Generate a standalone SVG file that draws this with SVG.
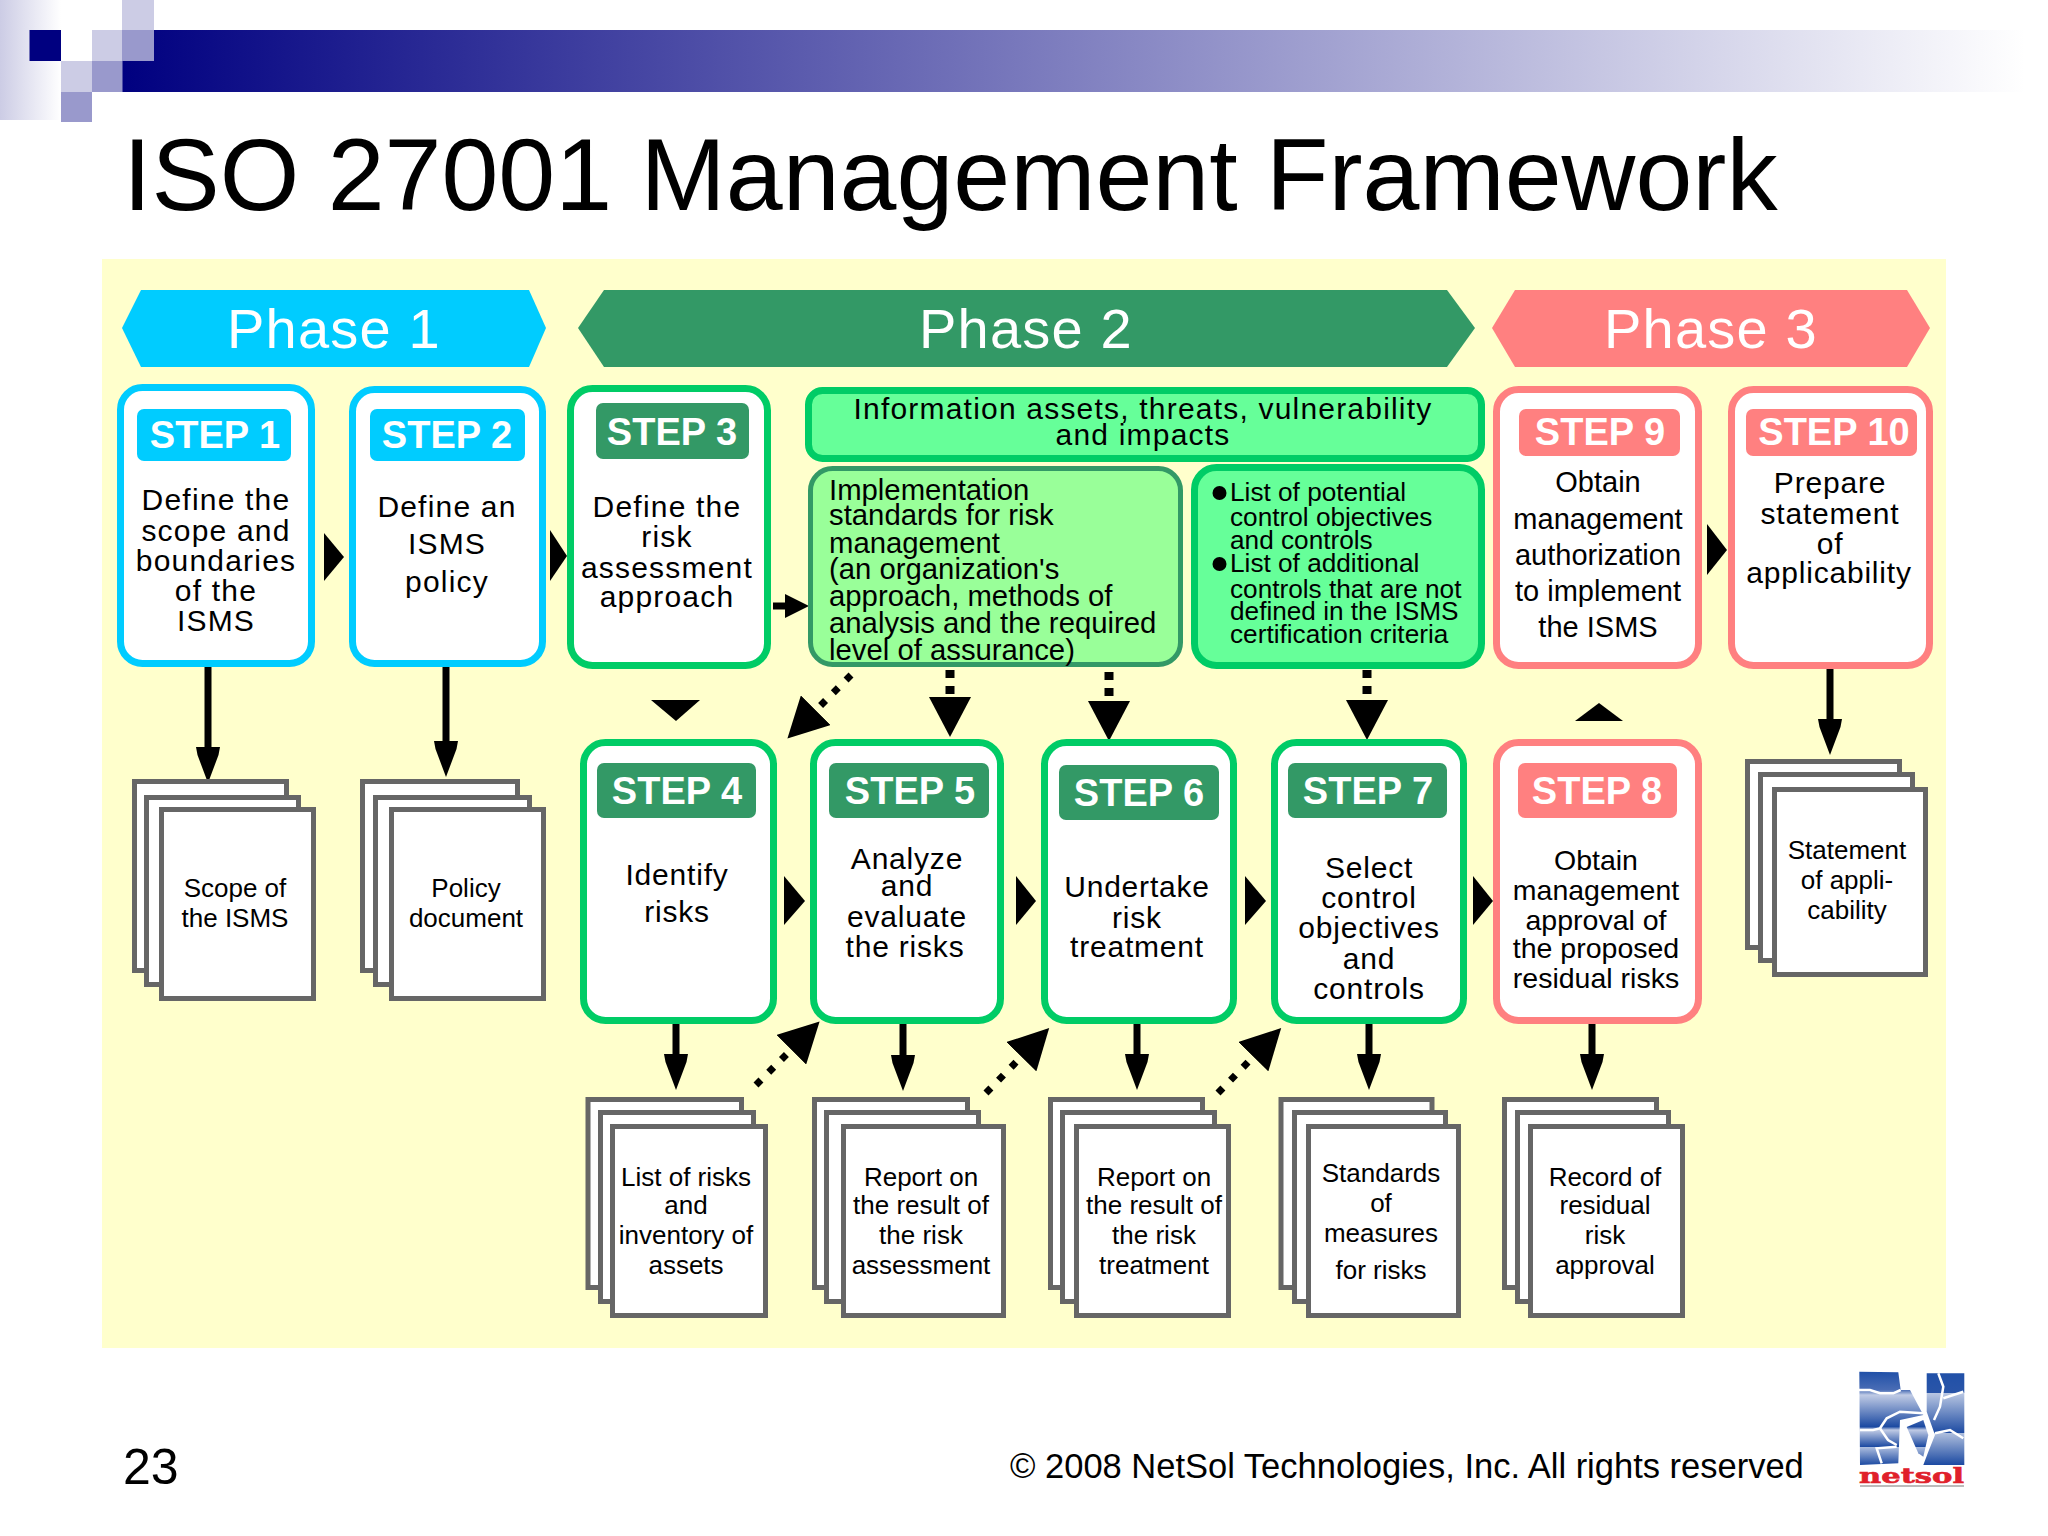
<svg xmlns="http://www.w3.org/2000/svg" width="2048" height="1536" viewBox="0 0 2048 1536">
<style>
text{font-family:"Liberation Sans",Arial,sans-serif;fill:#000}
.m{text-anchor:middle}
.ph{font-size:56px;fill:#fff;text-anchor:middle;letter-spacing:1.200px}
.lab{font-size:38px;font-weight:bold;fill:#fff;text-anchor:middle}
.d{font-size:30px;text-anchor:middle;letter-spacing:.8px}
.n{font-size:29px;letter-spacing:0}
.w{letter-spacing:1.200px}
.doc{font-size:26px;text-anchor:middle}
.imp{font-size:29.300px}
.lst{font-size:26.200px}
.box{fill:#fff;stroke-width:7}
.cy{stroke:#00CCFF}.gr{stroke:#00CC66}.rd{stroke:#FF8080}
.f-cy{fill:#00CCFF}.f-gr{fill:#339966}.f-rd{fill:#FF8080}
.page{fill:#fff;stroke:#666;stroke-width:5}
.line{stroke:#000;stroke-width:7;fill:none;marker-end:url(#solid)}
.dash{stroke:#000;stroke-width:9;stroke-dasharray:8 8;fill:none;marker-end:url(#big)}
.dot{stroke:#000;stroke-width:7;stroke-dasharray:7 11;fill:none;marker-end:url(#big)}
.tri{fill:#000}
.wv{fill:none;stroke:#fff;stroke-width:2.500}
</style>
<defs>
<linearGradient id="bar" gradientUnits="userSpaceOnUse" x1="122" y1="0" x2="2025" y2="0"><stop offset="0" stop-color="#000080"/><stop offset="1" stop-color="#fff"/></linearGradient>
<linearGradient id="fade" x1="0" y1="0" x2="1" y2="0"><stop offset="0" stop-color="#CCCCE5"/><stop offset="1" stop-color="#fff"/></linearGradient>
<linearGradient id="lgL" gradientUnits="userSpaceOnUse" x1="0" y1="1371.700" x2="0" y2="1465">
<stop offset="0" stop-color="#2050A8"/><stop offset=".196" stop-color="#4A6DB5"/><stop offset=".25" stop-color="#C0CBE5"/><stop offset=".589" stop-color="#1C4AA2"/><stop offset=".625" stop-color="#C0CBE5"/><stop offset=".804" stop-color="#1C4AA2"/><stop offset=".804" stop-color="#B0C0E0"/><stop offset="1" stop-color="#1C4AA2"/></linearGradient>
<linearGradient id="lgR" gradientUnits="userSpaceOnUse" x1="0" y1="1371.700" x2="0" y2="1465">
<stop offset="0" stop-color="#2050A8"/><stop offset=".232" stop-color="#2A55A8"/><stop offset=".232" stop-color="#B8C6E2"/><stop offset=".66" stop-color="#1C4AA2"/><stop offset=".66" stop-color="#AEBEDD"/><stop offset="1" stop-color="#1C4AA2"/></linearGradient>
<marker id="solid" markerUnits="userSpaceOnUse" markerWidth="36" markerHeight="24" refX="1" refY="12" orient="auto"><path d="M0,0 L8,1.500 L36,12 L8,22.500 L0,24Z"/></marker>
<marker id="big" markerUnits="userSpaceOnUse" markerWidth="40" markerHeight="42" refX="1" refY="21" orient="auto"><path d="M0,0 L40,21 L0,42Z"/></marker>
<marker id="small" markerUnits="userSpaceOnUse" markerWidth="24" markerHeight="24" refX="1" refY="12" orient="auto"><path d="M0,0 L24,12 L0,24Z"/></marker>
</defs>
<rect width="2048" height="1536" fill="#fff"/>
<g id="header">
<rect x="0" y="0" width="61" height="120" fill="url(#fade)"/>
<rect x="122" y="30" width="1926" height="62" fill="url(#bar)"/>
<rect x="29.500" y="30" width="31.500" height="31" fill="#000080"/>
<rect x="61" y="30" width="31" height="31" fill="#fff"/>
<rect x="122" y="0" width="32" height="30" fill="#CCCCE5"/>
<rect x="92" y="30" width="30.500" height="31" fill="#CCCCE5"/>
<rect x="122" y="30" width="32" height="31" fill="#9999CC"/>
<rect x="61" y="61" width="31" height="31" fill="#CCCCE5"/>
<rect x="92" y="61" width="30.500" height="31" fill="#9999CC"/>
<rect x="61" y="92" width="31" height="30" fill="#9999CC"/>
</g>
<text id="title" x="123" y="210" font-size="102.300">ISO 27001 Management Framework</text>
<rect id="panel" x="102" y="259" width="1844" height="1089" fill="#FFFFCC"/>
<g id="phase1"><polygon class="f-cy" points="122,328 141,290 529,290 546,328 529,367 141,367"/><text class="ph" x="334" y="348">Phase 1</text></g>
<g id="phase2"><polygon class="f-gr" points="578,328 604,290 1447,290 1475,328 1447,367 604,367"/><text class="ph" x="1026" y="348">Phase 2</text></g>
<g id="phase3"><polygon class="f-rd" points="1492,328 1515,290 1907,290 1930,328 1907,367 1515,367"/><text class="ph" x="1711" y="348">Phase 3</text></g>

<g id="connectors">
<line class="line" x1="208" y1="667" x2="208" y2="748"/>
<line class="line" x1="446" y1="667" x2="446" y2="742"/>
<line class="line" x1="676" y1="1024" x2="676" y2="1055"/>
<line class="line" x1="903" y1="1022" x2="903" y2="1056"/>
<line class="line" x1="1137" y1="1022" x2="1137" y2="1055"/>
<line class="line" x1="1369" y1="1022" x2="1369" y2="1055"/>
<line class="line" x1="1592" y1="1022" x2="1592" y2="1055"/>
<line class="line" x1="1830" y1="669" x2="1830" y2="720"/>
<line x1="773" y1="606" x2="786" y2="606" stroke="#000" stroke-width="7" marker-end="url(#small)"/>
<line class="dash" x1="950" y1="670" x2="950" y2="698"/>
<line class="dash" x1="1109" y1="672" x2="1109" y2="702"/>
<line class="dash" x1="1367" y1="670" x2="1367" y2="701"/>
<line class="dot" x1="851" y1="675" x2="815" y2="711"/>
<line class="dot" x1="756" y1="1085" x2="792" y2="1049"/>
<line class="dot" x1="986" y1="1093" x2="1022" y2="1056"/>
<line class="dot" x1="1218" y1="1093" x2="1254" y2="1056"/>
<polygon class="tri" points="324,533 344,557 324,581"/>
<polygon class="tri" points="550,530 567,556 550,581"/>
<polygon class="tri" points="784,876 805,901 784,925"/>
<polygon class="tri" points="1016,876 1036,901 1016,925"/>
<polygon class="tri" points="1245,876 1266,901 1245,925"/>
<polygon class="tri" points="1473,876 1493,901 1473,925"/>
<polygon class="tri" points="1707,524 1727,550 1707,575"/>
<polygon class="tri" points="651,700 700,700 676,721"/>
<polygon class="tri" points="1575,721 1623,721 1599,703"/>
</g>

<g id="step1"><rect class="box cy" x="120.500" y="387.500" width="191" height="276" rx="22"/><rect class="f-cy" x="137" y="409" width="154" height="52" rx="7"/><text class="lab" x="215" y="448">STEP 1</text>
<text class="d w"><tspan x="216" y="510">Define the</tspan><tspan x="216" y="541">scope and</tspan><tspan x="216" y="571">boundaries</tspan><tspan x="216" y="601">of the</tspan><tspan x="216" y="631">ISMS</tspan></text></g>
<g id="step2"><rect class="box cy" x="352.500" y="389.500" width="190" height="274" rx="22"/><rect class="f-cy" x="370" y="409" width="155" height="52" rx="7"/><text class="lab" x="447" y="448">STEP 2</text>
<text class="d w"><tspan x="447" y="517">Define an</tspan><tspan x="447" y="554">ISMS</tspan><tspan x="447" y="592">policy</tspan></text></g>
<g id="step3"><rect class="box gr" x="570.500" y="388.500" width="197" height="277" rx="22"/><rect class="f-gr" x="596" y="403" width="153" height="56" rx="7"/><text class="lab" x="672" y="445">STEP 3</text>
<text class="d w"><tspan x="667" y="517">Define the</tspan><tspan x="667" y="547">risk</tspan><tspan x="667" y="578">assessment</tspan><tspan x="667" y="607">approach</tspan></text></g>
<g id="info"><rect x="808.500" y="390.500" width="673" height="68" rx="14" fill="#66FF99" stroke="#00CC66" stroke-width="7"/>
<text class="d w"><tspan x="1143" y="419">Information assets, threats, vulnerability</tspan><tspan x="1143" y="445">and impacts</tspan></text></g>
<g id="standards"><rect x="810.500" y="468.500" width="370" height="196" rx="22" fill="#99FF99" stroke="#339966" stroke-width="5"/>
<text class="imp"><tspan x="829" y="500">Implementation</tspan><tspan x="829" y="525">standards for risk</tspan><tspan x="829" y="553">management</tspan><tspan x="829" y="579">(an organization's</tspan><tspan x="829" y="606">approach, methods of</tspan><tspan x="829" y="633">analysis and the required</tspan><tspan x="829" y="660">level of assurance)</tspan></text></g>
<g id="controls"><rect x="1194.500" y="467.500" width="287" height="198" rx="22" fill="#66FF99" stroke="#00CC66" stroke-width="7"/>
<circle cx="1219.500" cy="493" r="7"/><circle cx="1219.500" cy="564" r="7"/>
<text class="lst"><tspan x="1230" y="501">List of potential</tspan><tspan x="1230" y="526">control objectives</tspan><tspan x="1230" y="549">and controls</tspan><tspan x="1230" y="572">List of additional</tspan><tspan x="1230" y="598">controls that are not</tspan><tspan x="1230" y="620">defined in the ISMS</tspan><tspan x="1230" y="643">certification criteria</tspan></text></g>
<g id="step9"><rect class="box rd" x="1496.500" y="389.500" width="202" height="276" rx="22"/><rect class="f-rd" x="1519" y="409" width="161" height="47" rx="7"/><text class="lab" x="1600" y="445">STEP 9</text>
<text class="d n"><tspan x="1598" y="492">Obtain</tspan><tspan x="1598" y="529">management</tspan><tspan x="1598" y="565">authorization</tspan><tspan x="1598" y="601">to implement</tspan><tspan x="1598" y="637">the ISMS</tspan></text></g>
<g id="step10"><rect class="box rd" x="1731.500" y="389.500" width="198" height="276" rx="22"/><rect class="f-rd" x="1746" y="409" width="171" height="47" rx="7"/><text class="lab" x="1834" y="445">STEP 10</text>
<text class="d"><tspan x="1830" y="493">Prepare</tspan><tspan x="1830" y="524">statement</tspan><tspan x="1830" y="554">of</tspan><tspan x="1829" y="583">applicability</tspan></text></g>
<g id="step4"><rect class="box gr" x="583.500" y="742.500" width="190" height="278" rx="22"/><rect class="f-gr" x="597" y="763" width="159" height="55" rx="7"/><text class="lab" x="677" y="804">STEP 4</text>
<text class="d"><tspan x="677" y="885">Identify</tspan><tspan x="677" y="922">risks</tspan></text></g>
<g id="step5"><rect class="box gr" x="813.500" y="742.500" width="187" height="278" rx="22"/><rect class="f-gr" x="829" y="763" width="160" height="55" rx="7"/><text class="lab" x="910" y="804">STEP 5</text>
<text class="d"><tspan x="907" y="869">Analyze</tspan><tspan x="907" y="896">and</tspan><tspan x="907" y="927">evaluate</tspan><tspan x="905" y="957">the risks</tspan></text></g>
<g id="step6"><rect class="box gr" x="1044.500" y="742.500" width="189" height="278" rx="22"/><rect class="f-gr" x="1059" y="765" width="160" height="55" rx="7"/><text class="lab" x="1139" y="806">STEP 6</text>
<text class="d"><tspan x="1137" y="897">Undertake</tspan><tspan x="1137" y="928">risk</tspan><tspan x="1137" y="957">treatment</tspan></text></g>
<g id="step7"><rect class="box gr" x="1274.500" y="742.500" width="189" height="278" rx="22"/><rect class="f-gr" x="1288" y="763" width="159" height="55" rx="7"/><text class="lab" x="1368" y="804">STEP 7</text>
<text class="d"><tspan x="1369" y="878">Select</tspan><tspan x="1369" y="908">control</tspan><tspan x="1369" y="938">objectives</tspan><tspan x="1369" y="969">and</tspan><tspan x="1369" y="999">controls</tspan></text></g>
<g id="step8"><rect class="box rd" x="1496.500" y="742.500" width="202" height="278" rx="22"/><rect class="f-rd" x="1518" y="763" width="159" height="55" rx="7"/><text class="lab" x="1597" y="804">STEP 8</text>
<text class="d n" style="font-size:28.500px"><tspan x="1596" y="870">Obtain</tspan><tspan x="1596" y="900">management</tspan><tspan x="1596" y="930">approval of</tspan><tspan x="1596" y="958">the proposed</tspan><tspan x="1596" y="988">residual risks</tspan></text></g>

<g id="doc-scope"><rect class="page" x="134.500" y="781.500" width="152" height="189"/><rect class="page" x="146.500" y="797.500" width="152" height="187"/><rect class="page" x="161.500" y="809.500" width="152" height="189"/>
<text class="doc"><tspan x="235" y="897">Scope of</tspan><tspan x="235" y="927">the ISMS</tspan></text></g>
<g id="doc-policy"><rect class="page" x="362.500" y="781.500" width="155" height="189"/><rect class="page" x="375.500" y="797.500" width="154" height="187"/><rect class="page" x="391.500" y="809.500" width="152" height="189"/>
<text class="doc"><tspan x="466" y="897">Policy</tspan><tspan x="466" y="927">document</tspan></text></g>
<g id="doc-risks"><rect class="page" x="588" y="1099.500" width="153.500" height="188"/><rect class="page" x="600.500" y="1112.500" width="153" height="189"/><rect class="page" x="612.500" y="1126.500" width="153" height="189"/>
<text class="doc"><tspan x="686" y="1186">List of risks</tspan><tspan x="686" y="1214">and</tspan><tspan x="686" y="1244">inventory of</tspan><tspan x="686" y="1274">assets</tspan></text></g>
<g id="doc-assessment"><rect class="page" x="814.500" y="1099.500" width="153" height="188"/><rect class="page" x="826.500" y="1112.500" width="152" height="189"/><rect class="page" x="843.500" y="1126.500" width="160" height="189"/>
<text class="doc"><tspan x="921" y="1186">Report on</tspan><tspan x="921" y="1214">the result of</tspan><tspan x="921" y="1244">the risk</tspan><tspan x="921" y="1274">assessment</tspan></text></g>
<g id="doc-treatment"><rect class="page" x="1050.500" y="1099.500" width="152" height="188"/><rect class="page" x="1062.500" y="1112.500" width="152" height="189"/><rect class="page" x="1076.500" y="1126.500" width="152" height="189"/>
<text class="doc"><tspan x="1154" y="1186">Report on</tspan><tspan x="1154" y="1214">the result of</tspan><tspan x="1154" y="1244">the risk</tspan><tspan x="1154" y="1274">treatment</tspan></text></g>
<g id="doc-standards"><rect class="page" x="1281" y="1099.500" width="151" height="188"/><rect class="page" x="1294.500" y="1112.500" width="151" height="189"/><rect class="page" x="1308.500" y="1126.500" width="150" height="189"/>
<text class="doc"><tspan x="1381" y="1182">Standards</tspan><tspan x="1381" y="1212">of</tspan><tspan x="1381" y="1242">measures</tspan><tspan x="1381" y="1279">for risks</tspan></text></g>
<g id="doc-residual"><rect class="page" x="1504.500" y="1099.500" width="152" height="188"/><rect class="page" x="1517.500" y="1112.500" width="151" height="189"/><rect class="page" x="1530.500" y="1126.500" width="152" height="189"/>
<text class="doc"><tspan x="1605" y="1186">Record of</tspan><tspan x="1605" y="1214">residual</tspan><tspan x="1605" y="1244">risk</tspan><tspan x="1605" y="1274">approval</tspan></text></g>
<g id="doc-statement"><rect class="page" x="1747.500" y="761.500" width="152" height="186"/><rect class="page" x="1760.500" y="774.500" width="152" height="186"/><rect class="page" x="1774.500" y="789.500" width="151" height="185"/>
<text class="doc"><tspan x="1847" y="859">Statement</tspan><tspan x="1847" y="889">of appli-</tspan><tspan x="1847" y="919">cability</tspan></text></g>

<g id="footer">
<text x="123" y="1484" font-size="50">23</text>
<text x="1010" y="1478" font-size="34.500">© 2008 NetSol Technologies, Inc. All rights reserved</text>
</g>
<g id="logo">
<polygon fill="url(#lgL)" points="1859.300,1371.700 1898.300,1372.300 1900.700,1390 1910,1390 1923.300,1415 1900,1420 1898.300,1463.300 1860,1465"/>
<polygon fill="url(#lgL)" points="1906.700,1427 1923.300,1420 1928.300,1435 1923.300,1456.700 1918.300,1453.300"/>
<polygon fill="url(#lgR)" points="1926.700,1373.300 1964.300,1373.300 1964.300,1465 1923.300,1465 1928.300,1451.700 1935,1435 1926.700,1411.700"/>
<polygon fill="#fff" points="1900,1373 1904,1373 1910,1386 1900.700,1386"/>
<polyline class="wv" points="1859,1390 1870,1390 1880,1393.300 1893.300,1393.300 1900.700,1390"/>
<polyline class="wv" points="1880,1428.300 1886.700,1418.300 1900,1411.700 1923.300,1413.300"/>
<polyline class="wv" points="1860,1430 1873,1430 1880,1428.300 1888,1440 1896.700,1445"/>
<polyline class="wv" points="1896.700,1446.700 1876.700,1448.300 1881.700,1463.300"/>
<polyline class="wv" points="1938.300,1373.300 1943.300,1386.700 1940,1406.700 1934,1420"/>
<polyline class="wv" points="1943.300,1398.300 1963.300,1391.700"/>
<polyline class="wv" points="1935,1433.300 1950,1430 1963.300,1438.300"/>
<text x="1859" y="1483" font-size="21" font-weight="bold" textLength="105" lengthAdjust="spacingAndGlyphs" stroke="#E0202A" stroke-width=".6" style="font-family:'DejaVu Serif',serif;fill:#E0202A">netsol</text>
<rect x="1860" y="1485" width="104" height="2" fill="#BBBBBB"/>
</g>
</svg>
